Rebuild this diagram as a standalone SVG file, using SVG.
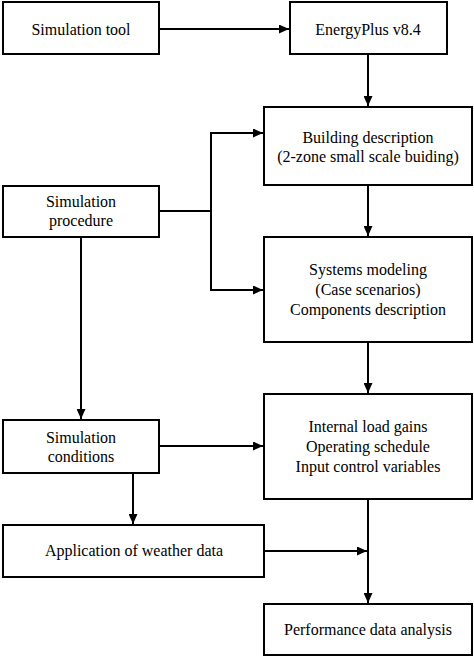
<svg xmlns="http://www.w3.org/2000/svg" width="474" height="657" viewBox="0 0 474 657">
<style>
.box{fill:#fff;stroke:#000;stroke-width:2}
text{font-family:"Liberation Serif","Times New Roman",serif;font-size:16px;fill:#000;text-anchor:middle}
.c{fill:none;stroke:#000;stroke-width:2}
</style>
<defs>
<marker id="a" viewBox="0 0 10 10" refX="10" refY="5" markerWidth="5" markerHeight="4.5" orient="auto" markerUnits="strokeWidth" preserveAspectRatio="none">
<path d="M0,0 L10,5 L0,10 z" fill="#000"/>
</marker>
</defs>
<rect width="474" height="657" fill="#fff"/>
<g id="connectors">
<line class="c" x1="159" y1="29" x2="289" y2="29" marker-end="url(#a)"/>
<line class="c" x1="368" y1="54" x2="368" y2="106" marker-end="url(#a)"/>
<polyline class="c" points="159,211 211,211"/>
<line class="c" x1="211" y1="133" x2="211" y2="290"/>
<line class="c" x1="210" y1="133" x2="263" y2="133" marker-end="url(#a)"/>
<line class="c" x1="210" y1="290" x2="263" y2="290" marker-end="url(#a)"/>
<line class="c" x1="368" y1="185" x2="368" y2="236" marker-end="url(#a)"/>
<line class="c" x1="368" y1="342" x2="368" y2="393" marker-end="url(#a)"/>
<line class="c" x1="81" y1="237" x2="81" y2="419" marker-end="url(#a)"/>
<line class="c" x1="159" y1="446" x2="263" y2="446" marker-end="url(#a)"/>
<line class="c" x1="133" y1="473" x2="133" y2="524" marker-end="url(#a)"/>
<line class="c" x1="264" y1="551" x2="367" y2="551" marker-end="url(#a)"/>
<line class="c" x1="368" y1="499" x2="368" y2="603" marker-end="url(#a)"/>
</g>
<g id="simtool"><rect class="box" x="3" y="2" width="156" height="52"/><text x="81" y="34.5">Simulation tool</text></g>
<g id="energyplus"><rect class="box" x="290" y="2" width="157" height="52"/><text x="368" y="34.5">EnergyPlus v8.4</text></g>
<g id="building"><rect class="box" x="264" y="107" width="208" height="78"/><text x="368" y="143">Building description</text><text x="368" y="162">(2-zone small scale buiding)</text></g>
<g id="procedure"><rect class="box" x="3" y="186" width="156" height="51"/><text x="81" y="207">Simulation</text><text x="81" y="226">procedure</text></g>
<g id="systems"><rect class="box" x="264" y="237" width="208" height="105"/><text x="368" y="275">Systems modeling</text><text x="368" y="295">(Case scenarios)</text><text x="368" y="315">Components description</text></g>
<g id="internal"><rect class="box" x="264" y="394" width="208" height="105"/><text x="368" y="432">Internal load gains</text><text x="368" y="452">Operating schedule</text><text x="368" y="472">Input control variables</text></g>
<g id="conditions"><rect class="box" x="3" y="420" width="156" height="53"/><text x="81" y="443">Simulation</text><text x="81" y="462">conditions</text></g>
<g id="weather"><rect class="box" x="3" y="525" width="261" height="52"/><text x="134" y="556">Application of weather data</text></g>
<g id="performance"><rect class="box" x="264" y="604" width="208" height="51"/><text x="368" y="635">Performance data analysis</text></g>
</svg>
